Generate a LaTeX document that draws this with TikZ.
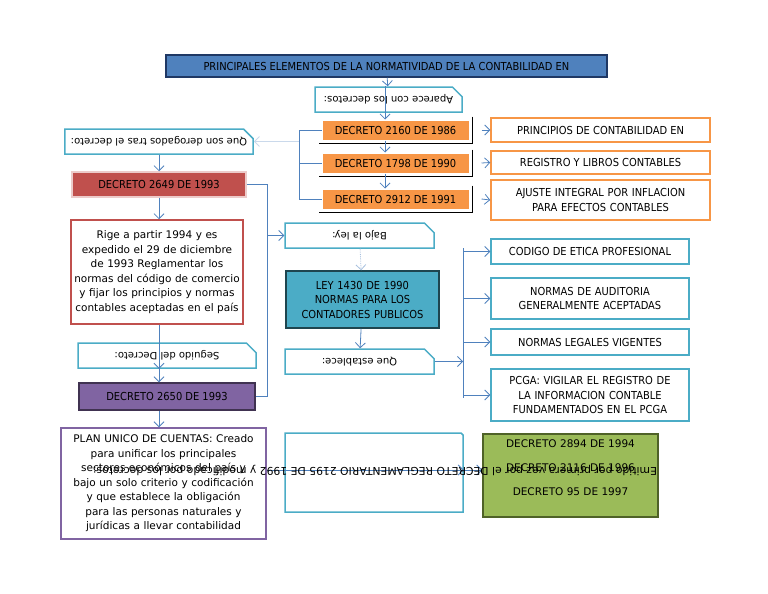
\documentclass[tikz,border=0pt]{standalone}
\usepackage{fontspec}
\setmainfont{DejaVu Sans}
\newfontfamily\cond{DejaVu Sans Condensed}
\usetikzlibrary{shapes.misc,arrows.meta}
\definecolor{tblue}{HTML}{4F81BD}
\definecolor{navy}{HTML}{1F3864}
\definecolor{torange}{HTML}{F79646}
\definecolor{tred}{HTML}{C0504D}
\definecolor{tpurple}{HTML}{8064A2}
\definecolor{tcyan}{HTML}{4BACC6}
\definecolor{tgreen}{HTML}{9BBB59}
\definecolor{dgreen}{HTML}{4F6228}
\hyphenpenalty=10000 \exhyphenpenalty=10000
\begin{document}
\begin{tikzpicture}[x=1pt,y=-1pt,
 base/.style={draw,line width=1.5pt,align=center,inner sep=2pt,font=\fontsize{11}{14.5}\selectfont\cond},
 call/.style={base,draw=tcyan,chamfered rectangle,chamfered rectangle corners=south west,chamfered rectangle xsep=6pt,rotate=180,font=\fontsize{10}{13}\selectfont,inner xsep=0pt},
 obox/.style={base,draw=torange},
 bbox/.style={base,draw=tcyan},
 dec/.style={base,fill=torange,draw=white,line width=1pt},
 body/.style={font=\fontsize{10.5}{14.5}\selectfont},
 arr/.style={tblue,line width=0.8pt,-{Straight Barb[length=5pt,width=10pt]}},
 ln/.style={tblue,line width=0.8pt}]
\useasboundingbox (0,0) rectangle (768,594);
\node[base,fill=tblue,draw=navy,minimum width=441,minimum height=22] (t) at (386.5,66) {PRINCIPALES ELEMENTOS DE LA NORMATIVIDAD DE LA CONTABILIDAD EN};
\node[call,minimum width=147,minimum height=25] (ap) at (388.5,99.5) {Aparece con los decretos:};
\node[dec,minimum width=147,minimum height=20] (d1) at (395.5,130) {DECRETO 2160 DE 1986};
\node[dec,minimum width=147,minimum height=20] (d2) at (395.5,163) {DECRETO 1798 DE 1990};
\node[dec,minimum width=147,minimum height=20] (d3) at (395.5,199) {DECRETO 2912 DE 1991};
\foreach \n in {d1,d2,d3}{\draw[black,line width=0.8pt] ([shift={(3,-3)}]\n.north east) -- ([shift={(3,3)}]\n.south east) -- ([shift={(-3,3)}]\n.south west);}
\node[obox,minimum width=219,minimum height=24] (p1) at (600.5,130) {PRINCIPIOS DE CONTABILIDAD EN};
\node[obox,minimum width=219,minimum height=23] (p2) at (600.5,162.5) {REGISTRO Y LIBROS CONTABLES};
\node[obox,minimum width=219,minimum height=40,text width=205] (p3) at (600.5,200) {AJUSTE INTEGRAL POR INFLACION PARA EFECTOS CONTABLES};
\node[call,minimum width=178,minimum height=25] (qs) at (159,141.5) {Que son derogados tras el decreto:};
\node[base,fill=tred,draw=tred!30,minimum width=174,minimum height=25] (d49) at (159,184.5) {DECRETO 2649 DE 1993};
\node[base,body,draw=tred,minimum width=172,minimum height=104,text width=166] (rg) at (157,272) {Rige a partir 1994 y es expedido el 29 de diciembre de 1993 Reglamentar los normas del código de comercio y fijar los principios y normas contables aceptadas en el país};
\node[call,minimum width=178,minimum height=25] (sg) at (167,355.5) {Seguido del Decreto:};
\node[base,fill=tpurple,draw=tpurple!50!black,minimum width=176,minimum height=27] (d50) at (167,396.5) {DECRETO 2650 DE 1993};
\node[base,body,draw=tpurple,minimum width=205,minimum height=111,text width=201] (pl) at (163.5,483.5) {PLAN UNICO DE CUENTAS: Creado\\ para unificar los principales sectores económicos del país y bajo un solo criterio y codificación y que establece la obligación para las personas naturales y jurídicas a llevar contabilidad};
\node[call,minimum width=149,minimum height=25] (bl) at (359.5,235.5) {Bajo la ley:};
\node[base,fill=tcyan,draw=tcyan!40!black,minimum width=153,minimum height=57,text width=148] (ley) at (362.5,299.5) {LEY 1430 DE 1990\\ NORMAS PARA LOS CONTADORES PUBLICOS};
\node[call,minimum width=149,minimum height=25] (qe) at (359.5,361.5) {Que establece:};
\node[bbox,minimum width=198,minimum height=25] (c1) at (590,251.5) {CODIGO DE ETICA PROFESIONAL};
\node[bbox,minimum width=198,minimum height=41,text width=185] (c2) at (590,298.5) {NORMAS DE AUDITORIA GENERALMENTE ACEPTADAS};
\node[bbox,minimum width=198,minimum height=26] (c3) at (590,342) {NORMAS LEGALES VIGENTES};
\node[bbox,minimum width=198,minimum height=52,text width=190] (c4) at (590,395) {PCGA: VIGILAR EL REGISTRO DE LA INFORMACION CONTABLE FUNDAMENTADOS EN EL PCGA};
\node[call,minimum width=178,minimum height=79] (em) at (374,472.5) {};
\node[base,fill=tgreen,draw=dgreen,minimum width=175,minimum height=83] (gr) at (570.5,475.5) {};
\node[body] (g1) at (570.5,444) {DECRETO 2894 DE 1994};
\node[body] (g2) at (570.5,468) {DECRETO 2116 DE 1996};
\node[body] (g3) at (570.5,492) {DECRETO 95 DE 1997};
\draw[arr] (pl.east|-0,470) -- (em.west|-0,470);
\draw[arr] (em.east|-0,470) -- (gr.west|-0,470);
\node[rotate=180,font=\fontsize{10.8}{12}\selectfont] (emt) at (375,470) {Emitido por primera vez por el DECRETO REGLAMENTARIO 2195 DE 1992 y modificado por los decretos:};
% connectors
\draw[arr] (t) -- (ap);
\draw[arr] (ap.south-|385,0) -- (d1.north-|385,0);
\draw[arr] (d1.south-|385,0) -- (d2.north-|385,0);
\draw[arr] (d2.south-|385,0) -- (d3.north-|385,0);
\coordinate (bx) at (299,130);
\draw[ln] (d1.west) -- (bx) -- (bx|-d3) -- (d3.west);
\draw[ln] (d2.west) -- (bx|-d2);
\draw[arr,tblue!30] (bx|-qs) -- (qs.west);
\draw[arr] ([xshift=12]d1.east) -- (p1.west);
\draw[arr] ([xshift=12]d2.east) -- (p2.west);
\draw[arr] ([xshift=12]d3.east) -- (p3.west);
\coordinate (cx) at (159,0);
\draw[arr] (qs.north-|cx) -- (d49.north-|cx);
\draw[arr] (d49.south-|cx) -- (rg.north-|cx);
\draw[arr] (rg.south-|cx) -- (sg.north-|cx);
\draw[arr] (sg.south-|cx) -- (d50.north-|cx);
\draw[arr] (d50.south-|cx) -- (pl.north-|cx);
\coordinate (lx) at (267,184.5);
\draw[ln] (d49.east) -- (lx) -- (lx|-d50) -- (d50.east);
\draw[arr] (lx|-bl) -- (bl.east);
\draw[arr,densely dotted,tblue!50] (bl) -- (ley);
\draw[arr] (ley) -- (qe);
\coordinate (rx) at (463,248);
\draw[ln] (rx) -- (rx|-0,398);
\draw[arr] (qe.west) -- (rx|-qe);
\foreach \c in {c1,c2,c3,c4}{\draw[arr] (rx|-\c) -- (\c.west);}
\end{tikzpicture}
\end{document}
